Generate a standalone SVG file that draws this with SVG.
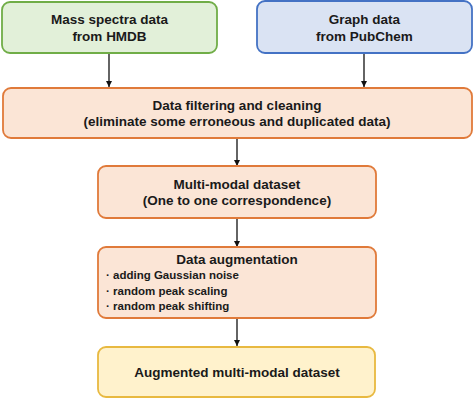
<svg xmlns="http://www.w3.org/2000/svg" width="474" height="400" viewBox="0 0 474 400">
<defs>
<marker id="ah" viewBox="0 0 8 8" refX="8" refY="4" markerWidth="6" markerHeight="6" markerUnits="userSpaceOnUse" orient="auto">
<path d="M0,0 L8,4 L0,8 z" fill="#111"/>
</marker>
<style>
.t{font-family:"Liberation Sans",Arial,sans-serif;font-size:13.5px;font-weight:bold;fill:#1a1a1a;text-anchor:middle}
.b{font-family:"Liberation Sans",Arial,sans-serif;font-size:11.5px;font-weight:bold;fill:#1a1a1a}
.g{fill:#e2f0d9;stroke:#70ad47;stroke-width:1.8}
.bl{fill:#dae3f3;stroke:#4472c4;stroke-width:1.8}
.o{fill:#fbe5d6;stroke:#e07a3a;stroke-width:1.8}
.y{fill:#fff2cc;stroke:#e8b940;stroke-width:1.8}
.c{stroke:#111;stroke-width:1.3;fill:none;marker-end:url(#ah)}
</style>
</defs>
<rect width="474" height="400" fill="#fff"/>
<g id="connectors">
<line class="c" x1="109" y1="53" x2="109" y2="87"/>
<line class="c" x1="364" y1="53" x2="364" y2="87"/>
<line class="c" x1="237" y1="138" x2="237" y2="166"/>
<line class="c" x1="237" y1="218" x2="237" y2="247"/>
<line class="c" x1="237" y1="318" x2="237" y2="346"/>
</g>
<g id="hmdb">
<rect class="g" x="2" y="2" width="215" height="51" rx="8"/>
<text class="t" x="109.5" y="24">Mass spectra data</text>
<text class="t" x="109.5" y="41">from HMDB</text>
</g>
<g id="pubchem">
<rect class="bl" x="257" y="1" width="215" height="52" rx="8"/>
<text class="t" x="364.5" y="24">Graph data</text>
<text class="t" x="364.5" y="41">from PubChem</text>
</g>
<g id="filter">
<rect class="o" x="3" y="88" width="469" height="50" rx="8"/>
<text class="t" x="237" y="110">Data filtering and cleaning</text>
<text class="t" x="237" y="126">(eliminate some erroneous and duplicated data)</text>
</g>
<g id="multimodal">
<rect class="o" x="98" y="166" width="278" height="52" rx="8"/>
<text class="t" x="237" y="189">Multi-modal dataset</text>
<text class="t" x="237" y="205">(One to one correspondence)</text>
</g>
<g id="augment">
<rect class="o" x="98" y="247" width="278" height="71" rx="8"/>
<text class="t" x="237" y="264">Data augmentation</text>
<text class="b" x="106" y="279">· adding Gaussian noise</text>
<text class="b" x="106" y="295">· random peak scaling</text>
<text class="b" x="106" y="310">· random peak shifting</text>
</g>
<g id="augmented">
<rect class="y" x="98" y="347" width="277" height="50" rx="8"/>
<text class="t" x="237" y="377">Augmented multi-modal dataset</text>
</g>
</svg>
